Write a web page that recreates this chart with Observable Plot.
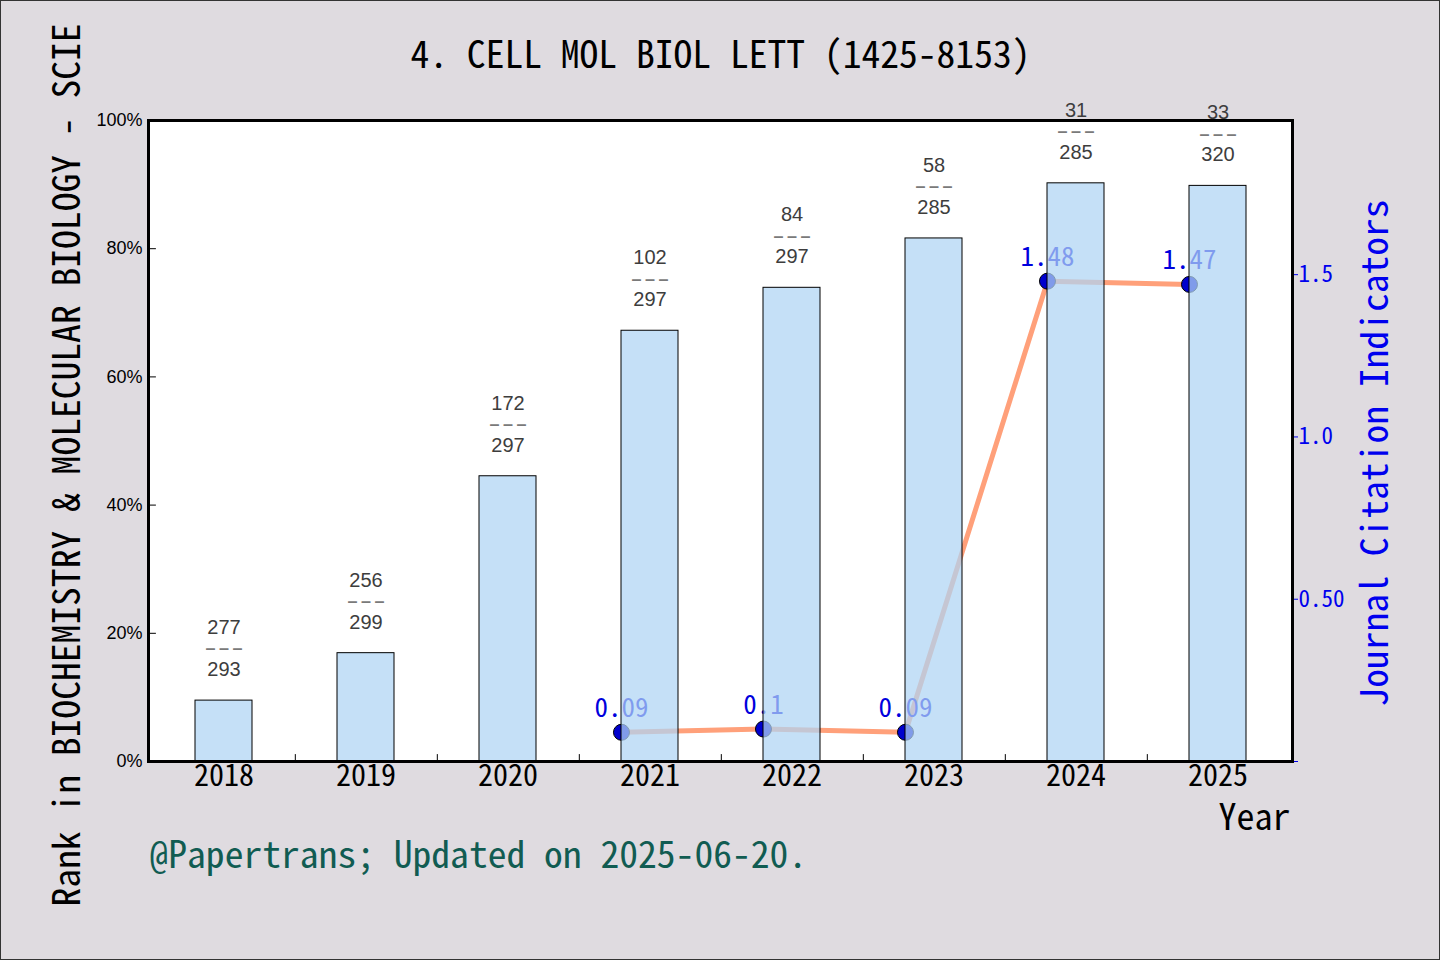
<!DOCTYPE html>
<html>
<head>
<meta charset="utf-8">
<script src="https://cdn.jsdelivr.net/npm/d3@7"></script>
<script src="https://cdn.jsdelivr.net/npm/@observablehq/plot@0.6"></script>
<style>
  html, body { margin: 0; padding: 0; background: #DFDBE0; }
  #chart svg { display: block; outline: 1px solid #333; outline-offset: -1px; }
</style>
</head>
<body>
<div id="chart"></div>
<script>
// ---- data ----
const years = ["2018", "2019", "2020", "2021", "2022", "2023", "2024", "2025"];
const rankPct = [9.5, 16.9, 44.5, 67.2, 73.9, 81.6, 90.2, 89.8];
const rankNum = [277, 256, 172, 102, 84, 58, 31, 33];
const rankTotal = [293, 299, 297, 297, 297, 285, 285, 320];
const jciYears = ["2021", "2022", "2023", "2024", "2025"];
const jciValues = [0.09, 0.1, 0.09, 1.48, 1.47];
const jciLabels = ["0.09", "0.1", "0.09", "1.48", "1.47"];
const pctTicks = [0, 20, 40, 60, 80, 100];
const jciTicks = [0, 0.5, 1.0, 1.5];
const jciTickLabels = ["", "0.50", "1.0", "1.5"];
const jciMax = 1.975;
const titleText = "4. CELL MOL BIOL LETT (1425-8153)";
const leftLabel = "Rank in BIOCHEMISTRY & MOLECULAR BIOLOGY - SCIE";
const rightLabel = "Journal Citation Indicators";
const xLabel = "Year";
const captionText = "@Papertrans; Updated on 2025-06-20.";

// ---- derived tables ----
const k = 100 / jciMax;
const rankData = years.map((y, i) => ({year: y, pct: rankPct[i], rank: rankNum[i], total: rankTotal[i]}));
const jciData = jciYears.map((y, i) => ({year: y, jci: jciValues[i], label: jciLabels[i]}));

const W = 1440, H = 960, mL = 148, mR = 148, mT = 120, mB = 199;
const padIn = 0.6, padOut = 0.31;
const step = (W - mL - mR) / (years.length - padIn + 2 * padOut);
const bw = step * (1 - padIn);

const mono = '"Noto Sans Mono CJK SC", "DejaVu Sans Mono", monospace';
const sans = '"Liberation Sans", Arial, sans-serif';
const thin = "\u2009";
const dashes = ["\u2013", "\u2013", "\u2013"].join(thin);

const jciFmt = d => {
  const v = d / k;
  const i = jciTicks.findIndex(t => Math.abs(t - v) < 1e-6);
  return i >= 0 ? jciTickLabels[i] : "";
};

// straight tick shape for vector marks
const tickShape = {draw(context, l) { context.moveTo(0, 0); context.lineTo(0, -l); }};

const chart = Plot.plot({
  width: W, height: H,
  marginLeft: mL, marginRight: mR, marginTop: mT, marginBottom: mB,
  style: {background: "#DFDBE0", fontFamily: sans, overflow: "visible"},
  x: {domain: years, paddingInner: padIn, paddingOuter: padOut, axis: null},
  y: {domain: [0, 100], axis: null},
  marks: [
    Plot.frame({fill: "white"}),
    // rank labels
    Plot.text(rankData, {x: "year", y: "pct", text: d => String(d.rank), dy: -73, fontSize: 20, fill: "#3d3d3d", fontFamily: sans}),
    Plot.text(rankData, {x: "year", y: "pct", text: () => dashes, dy: -52, fontSize: 18, fontWeight: "bold", fill: "#7a7a7a", fontFamily: sans}),
    Plot.text(rankData, {x: "year", y: "pct", text: d => String(d.total), dy: -31, fontSize: 20, fill: "#3d3d3d", fontFamily: sans}),
    // JCI line, points, labels
    Plot.line(jciData, {x: "year", y: d => d.jci * k, dx: -bw / 2, stroke: "#FFA07A", strokeWidth: 5}),
    Plot.dot(jciData, {x: "year", y: d => d.jci * k, dx: -bw / 2, r: 8, fill: "#0000CD", stroke: "black", strokeWidth: 1}),
    Plot.text(jciData, {x: "year", y: d => d.jci * k, dx: -bw / 2, dy: -24, text: "label", fill: "#0000DD", fontSize: 27, fontFamily: mono}),
    // bars (semi-transparent, over the line)
    Plot.barY(rankData, {x: "year", y: "pct", fill: "rgb(176,212,244)", fillOpacity: 0.73, stroke: "black", strokeWidth: 1}),
    // inward ticks
    Plot.vector(pctTicks.slice(1, -1), {y: d => d, frameAnchor: "left", rotate: 90, length: 7, anchor: "start", shape: tickShape, stroke: "black", strokeWidth: 1}),
    Plot.vector(years.slice(0, -1), {x: d => d, dx: step / 2, frameAnchor: "bottom", rotate: 0, length: 7, anchor: "start", shape: tickShape, stroke: "black", strokeWidth: 1}),
    // axes
    Plot.axisY({anchor: "left", ticks: pctTicks, tickSize: 0, tickPadding: 6, tickFormat: d => d + "%", fontSize: 18, fontFamily: sans, color: "black", label: null}),
    Plot.axisY({anchor: "right", ticks: jciTicks.map(t => t * k), tickSize: 5, tickPadding: 1, tickFormat: jciFmt, fontSize: 23, fontFamily: mono, color: "#0000EE", label: null}),
    Plot.axisX({anchor: "bottom", tickSize: 0, tickPadding: 3, fontSize: 30, fontFamily: mono, color: "black", label: null}),
    // titles
    Plot.text([titleText], {frameAnchor: "top", lineAnchor: "middle", textAnchor: "middle", dy: -65, fontSize: 37.6, fontFamily: mono, fill: "black"}),
    Plot.text([captionText], {frameAnchor: "bottom-left", lineAnchor: "middle", textAnchor: "start", dx: 1, dy: 94, fontSize: 37.6, fontFamily: mono, fill: "#115C52"}),
    Plot.text([xLabel], {frameAnchor: "bottom-right", lineAnchor: "middle", textAnchor: "end", dx: -2, dy: 57, fontSize: 36, fontFamily: mono, fill: "black"}),
    Plot.text([leftLabel], {frameAnchor: "left", lineAnchor: "middle", textAnchor: "middle", rotate: -90, dx: -81, dy: 24, fontSize: 37.6, fontFamily: mono, fill: "black"}),
    Plot.text([rightLabel], {frameAnchor: "right", lineAnchor: "middle", textAnchor: "middle", rotate: -90, dx: 83, dy: 12, fontSize: 37.6, fontFamily: mono, fill: "#0000EE"}),
    // frame on top
    Plot.frame({stroke: "black", strokeWidth: 3})
  ]
});
document.getElementById("chart").appendChild(chart);
</script>
</body>
</html>
